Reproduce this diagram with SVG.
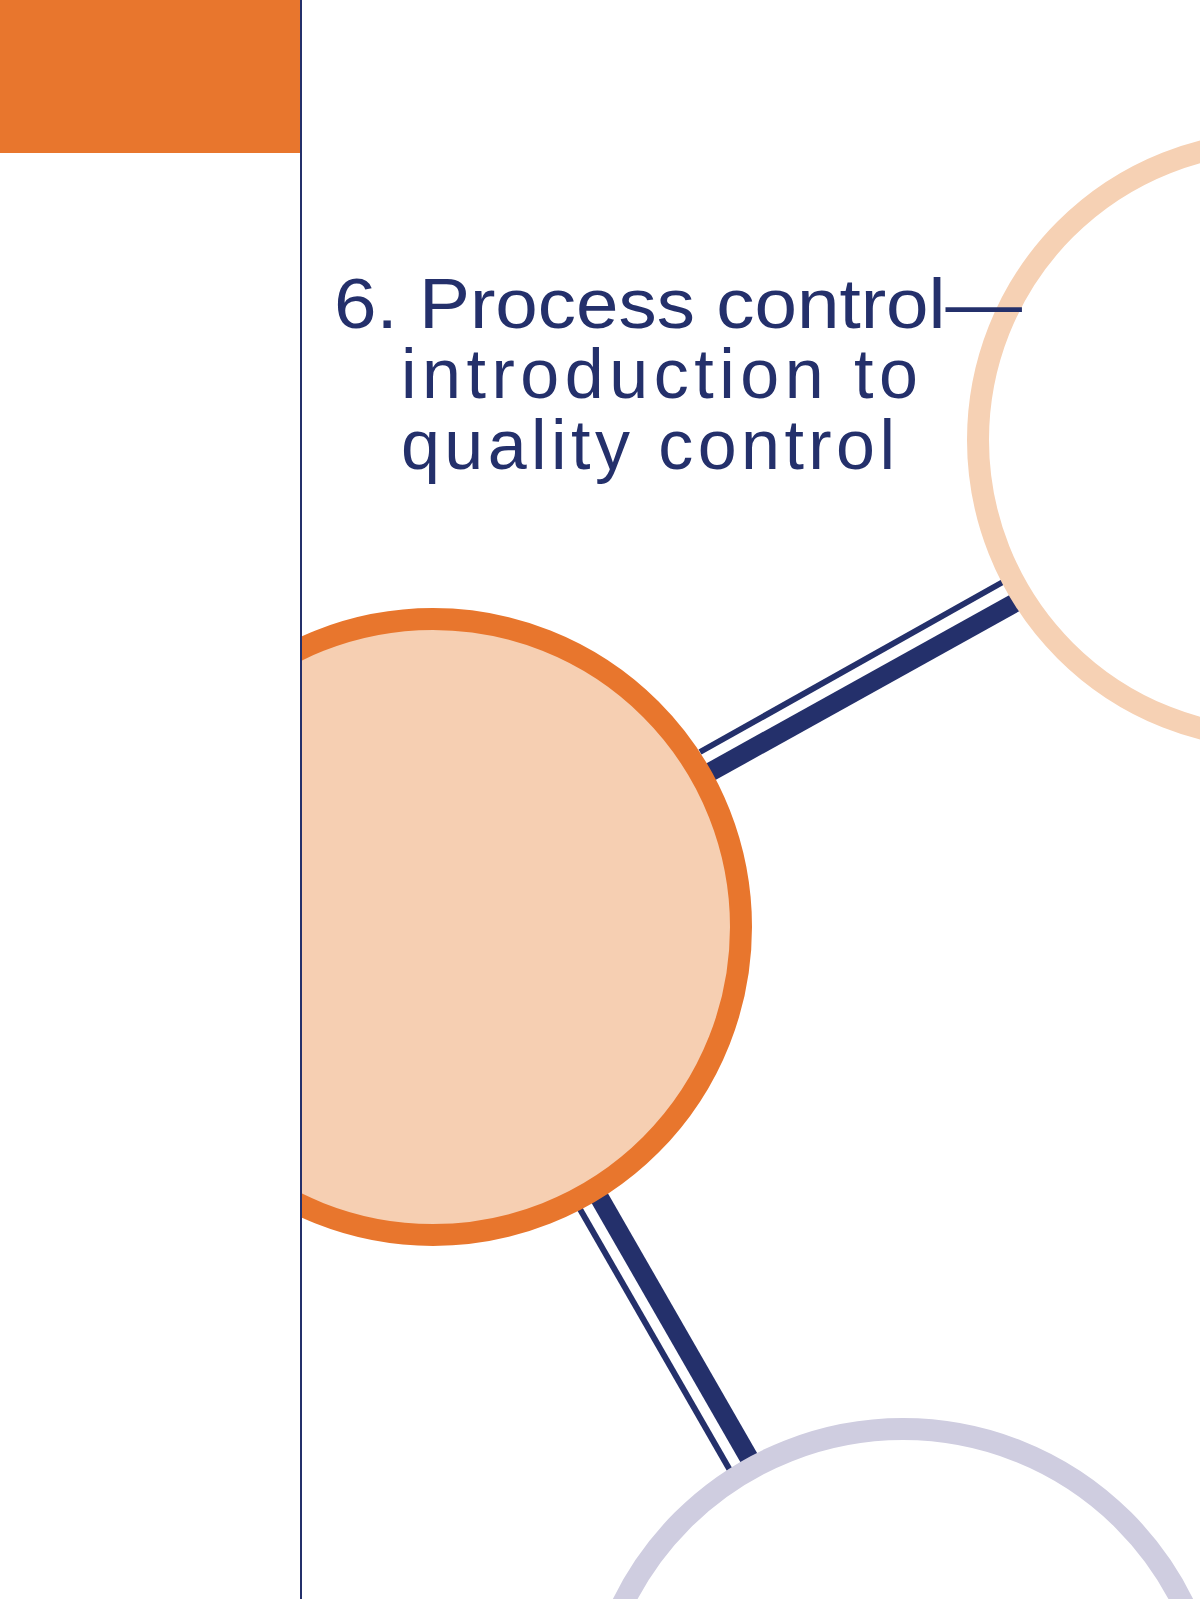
<svg xmlns="http://www.w3.org/2000/svg" width="1200" height="1599" viewBox="0 0 1200 1599">
<style>
.t{font-family:"Liberation Sans",Arial,sans-serif;font-size:70px;fill:#24306b}
.c{stroke:#24306b;fill:none}
</style>
<defs><clipPath id="r"><rect x="302" y="0" width="898" height="1599"/></clipPath></defs>
<rect width="1200" height="1599" fill="#fff"/>
<rect id="band" x="0" y="0" width="301" height="153" fill="#e8762d"/>
<g id="connectors" clip-path="url(#r)">
<line class="c" x1="700" y1="752" x2="1010" y2="578" stroke-width="6"/>
<line class="c" x1="705" y1="775" x2="1020" y2="600" stroke-width="19"/>
<line class="c" x1="569" y1="1190" x2="731" y2="1472" stroke-width="6"/>
<line class="c" x1="591" y1="1183" x2="753" y2="1465" stroke-width="19"/>
</g>
<g id="node-main" clip-path="url(#r)"><circle cx="433" cy="927" r="308" fill="#f6cfb2" stroke="#e8762d" stroke-width="22"/></g>
<g id="node-top"><circle cx="1276" cy="440" r="298" fill="#fff" stroke="#f6d1b4" stroke-width="22"/></g>
<g id="node-bottom"><circle cx="903" cy="1741" r="312" fill="#fff" stroke="#cfcde0" stroke-width="22"/></g>
<line id="divider" x1="301" y1="0" x2="301" y2="1599" stroke="#24306b" stroke-width="2"/>
<g id="title">
<text class="t" x="334" y="328" textLength="688" lengthAdjust="spacingAndGlyphs">6. Process control—</text>
<text class="t" x="401" y="398" textLength="517" lengthAdjust="spacing">introduction to</text>
<text class="t" x="401" y="469" textLength="494" lengthAdjust="spacing">quality control</text>
</g>
</svg>
